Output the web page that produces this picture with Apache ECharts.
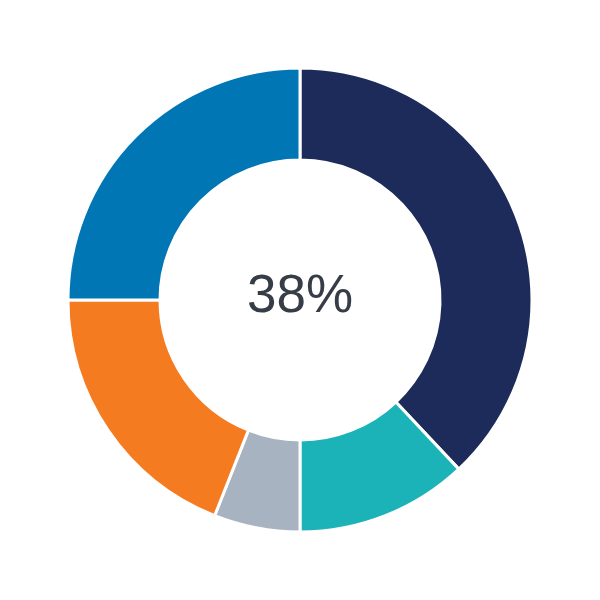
<!DOCTYPE html>
<html lang="en">
<head>
    <meta charset="utf-8">
    <script src="https://cdn.jsdelivr.net/npm/echarts@6/dist/echarts.min.js"></script>
    <style>
        html, body { margin: 0; padding: 0; width: 100%; height: 100%; background: #fff; }
        #chart { width: 600px; height: 600px; }
    </style>
</head>
<body>
    <div id="chart"></div>
    <script type="text/javascript">
        // slices clockwise from 12 o'clock
        var categories = ['A', 'B', 'C', 'D', 'E'];
        var values = [38, 12, 6, 19, 25];
        var colors = ['#1c2b5a', '#1bb3b7', '#a8b3c1', '#f47b20', '#0076b4'];
        var centerLabel = '38%';

        var myChart = echarts.init(document.getElementById('chart'));

        var data = [];
        for (var i = 0; i < categories.length; i++) {
            data.push({ name: categories[i], value: values[i], itemStyle: { color: colors[i] } });
        }

        var option = {
            animation: false,
            title: {
                text: centerLabel,
                left: 'center',
                top: 266,
                textStyle: {
                    fontFamily: '"Liberation Sans", Arial, sans-serif',
                    fontSize: 53,
                    fontWeight: 'normal',
                    color: '#373d47'
                }
            },
            series: [{
                type: 'pie',
                center: [300, 300],
                radius: [140, 232],
                startAngle: 90,
                clockwise: true,
                label: { show: false },
                labelLine: { show: false },
                itemStyle: { borderColor: '#fff', borderWidth: 3 },
                emphasis: { disabled: true },
                data: data
            }]
        };

        myChart.setOption(option);
    </script>
</body>
</html>
